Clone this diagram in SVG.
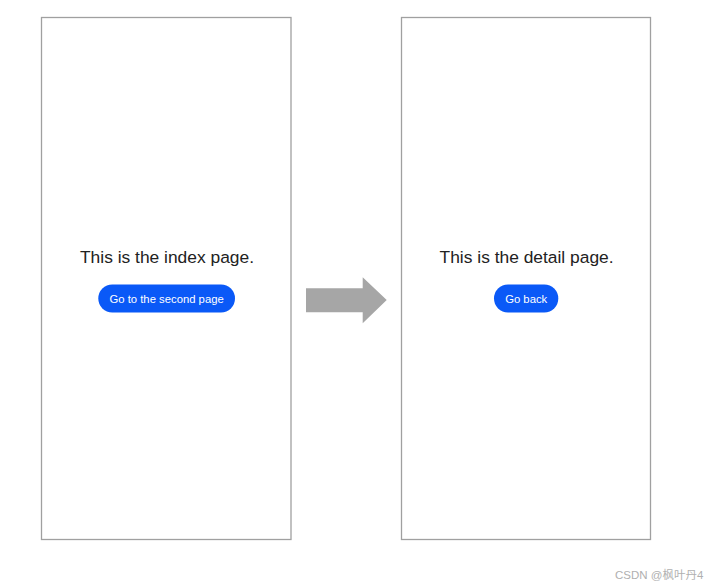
<svg xmlns="http://www.w3.org/2000/svg" width="720" height="588" viewBox="0 0 720 588">
<style>
.page{fill:#fff;stroke:#a0a0a0;stroke-width:1.3}
.title{font-family:"Liberation Sans",Arial,sans-serif;font-size:17.4px;fill:#222;text-anchor:middle}
.btn{fill:#0a59f7}
.btxt{font-family:"Liberation Sans",Arial,sans-serif;font-size:11.3px;fill:#fff;text-anchor:middle}
.wm{font-family:"Liberation Sans","Noto Sans CJK SC",sans-serif;font-size:11.5px;fill:#b0b0b0}
</style>
<rect width="720" height="588" fill="#fff"/>
<g id="index-page">
<rect class="page" x="41.5" y="17.5" width="249.5" height="522"/>
<text class="title" x="167" y="263.3">This is the index page.</text>
<rect class="btn" x="98.3" y="284.5" width="136.7" height="28" rx="14"/>
<text class="btxt" x="166.6" y="302.7">Go to the second page</text>
</g>
<g id="detail-page">
<rect class="page" x="401.5" y="17.5" width="249" height="522"/>
<text class="title" x="526.6" y="263.3">This is the detail page.</text>
<rect class="btn" x="494" y="284.5" width="64.3" height="28" rx="14"/>
<text class="btxt" x="526.2" y="302.7">Go back</text>
</g>
<g id="connectors">
<polygon fill="#a6a6a6" points="306,288.3 362.7,288.3 362.7,277.3 386.7,300 362.7,323.3 362.7,312.3 306,312.3"/>
</g>
<text class="wm" x="615" y="579">CSDN @枫叶丹4</text>
</svg>
